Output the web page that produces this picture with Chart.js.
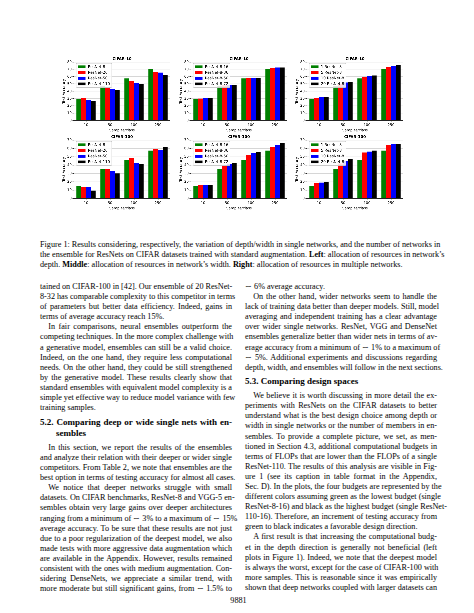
<!DOCTYPE html>
<html><head><meta charset="utf-8">
<script src="https://cdn.jsdelivr.net/npm/chart.js@4"></script>
<style>
html,body{margin:0;padding:0;background:#fff;}
body{width:474px;height:613px;position:relative;overflow:hidden;font-family:"Liberation Serif","Times New Roman",serif;color:#000;}
canvas{position:absolute;}
.blk{position:absolute;font-size:8.18px;line-height:10.1px;}
.l{text-align:justify;text-align-last:justify;white-space:nowrap;height:10.1px;}
.cap .l{height:10px;}
.e{text-align-last:left;}
.p{text-indent:8.2px;}
.h{font-weight:bold;font-size:9px;line-height:11.4px;height:11.4px;white-space:nowrap;}
.h.first{margin-top:3.4px;}
.h.last{margin-bottom:3.5px;}
.h2{padding-left:16px;}
.hj{text-align:justify;text-align-last:justify;}
</style>
</head><body>
<canvas id="c1" width="113" height="77" style="left:60px;top:56px;width:113px;height:77px"></canvas>
<canvas id="c2" width="113" height="77" style="left:177px;top:56px;width:113px;height:77px"></canvas>
<canvas id="c3" width="113" height="77" style="left:293px;top:56px;width:113px;height:77px"></canvas>
<canvas id="c4" width="113" height="77" style="left:60px;top:134px;width:113px;height:77px"></canvas>
<canvas id="c5" width="113" height="77" style="left:177px;top:134px;width:113px;height:77px"></canvas>
<canvas id="c6" width="113" height="77" style="left:293px;top:134px;width:113px;height:77px"></canvas>

<div class="blk cap" style="left:40px;top:240px;width:397px;line-height:10px;">
<div class="l">Figure 1: Results considering, respectively, the variation of depth/width in single networks, and the number of networks in</div>
<div class="l">the ensemble for ResNets on CIFAR datasets trained with standard augmentation. <b>Left</b>: allocation of resources in network’s</div>
<div class="l e">depth. <b>Middle</b>: allocation of resources in network’s width. <b>Right</b>: allocation of resources in multiple networks.</div>
</div>

<div class="blk" style="left:40px;top:282px;width:192px;">
<div class="l">tained on CIFAR-100 in [42]. Our ensemble of 20 ResNet-</div>
<div class="l">8-32 has comparable complexity to this competitor in terms</div>
<div class="l">of parameters but better data efficiency. Indeed, gains in</div>
<div class="l e">terms of average accuracy reach 15%.</div>
<div class="l p">In fair comparisons, neural ensembles outperform the</div>
<div class="l">competing techniques. In the more complex challenge with</div>
<div class="l">a generative model, ensembles can still be a valid choice.</div>
<div class="l">Indeed, on the one hand, they require less computational</div>
<div class="l">needs. On the other hand, they could be still strengthened</div>
<div class="l">by the generative model. These results clearly show that</div>
<div class="l">standard ensembles with equivalent model complexity is a</div>
<div class="l">simple yet effective way to reduce model variance with few</div>
<div class="l e">training samples.</div>
<div class="h first hj">5.2. Comparing deep or wide single nets with en-</div>
<div class="h last h2">sembles</div>
<div class="l p">In this section, we report the results of the ensembles</div>
<div class="l">and analyze their relation with their deeper or wider single</div>
<div class="l">competitors. From Table 2, we note that ensembles are the</div>
<div class="l e">best option in terms of testing accuracy for almost all cases.</div>
<div class="l p">We notice that deeper networks struggle with small</div>
<div class="l">datasets. On CIFAR benchmarks, ResNet-8 and VGG-5 en-</div>
<div class="l">sembles obtain very large gains over deeper architectures</div>
<div class="l">ranging from a minimum of ∼ 3% to a maximum of ∼ 15%</div>
<div class="l">average accuracy. To be sure that these results are not just</div>
<div class="l">due to a poor regularization of the deepest model, we also</div>
<div class="l">made tests with more aggressive data augmentation which</div>
<div class="l">are available in the Appendix. However, results remained</div>
<div class="l">consistent with the ones with medium augmentation. Con-</div>
<div class="l">sidering DenseNets, we appreciate a similar trend, with</div>
<div class="l">more moderate but still significant gains, from ∼ 1.5% to</div>
</div>

<div class="blk" style="left:245px;top:282px;width:192px;">
<div class="l e">∼ 6% average accuracy.</div>
<div class="l p">On the other hand, wider networks seem to handle the</div>
<div class="l">lack of training data better than deeper models. Still, model</div>
<div class="l">averaging and independent training has a clear advantage</div>
<div class="l">over wider single networks. ResNet, VGG and DenseNet</div>
<div class="l">ensembles generalize better than wider nets in terms of av-</div>
<div class="l">erage accuracy from a minimum of ∼ 1% to a maximum of</div>
<div class="l">∼ 5%. Additional experiments and discussions regarding</div>
<div class="l e">depth, width, and ensembles will follow in the next sections.</div>
<div class="h first last">5.3. Comparing design spaces</div>
<div class="l p">We believe it is worth discussing in more detail the ex-</div>
<div class="l">periments with ResNets on the CIFAR datasets to better</div>
<div class="l">understand what is the best design choice among depth or</div>
<div class="l">width in single networks or the number of members in en-</div>
<div class="l">sembles. To provide a complete picture, we set, as men-</div>
<div class="l">tioned in Section 4.3, additional computational budgets in</div>
<div class="l">terms of FLOPs that are lower than the FLOPs of a single</div>
<div class="l">ResNet-110. The results of this analysis are visible in Fig-</div>
<div class="l">ure 1 (see its caption in table format in the Appendix,</div>
<div class="l">Sec. D). In the plots, the four budgets are represented by the</div>
<div class="l">different colors assuming green as the lowest budget (single</div>
<div class="l">ResNet-8-16) and black as the highest budget (single ResNet-</div>
<div class="l">110-16). Therefore, an increment of testing accuracy from</div>
<div class="l e">green to black indicates a favorable design direction.</div>
<div class="l p">A first result is that increasing the computational budg-</div>
<div class="l">et in the depth direction is generally not beneficial (left</div>
<div class="l">plots in Figure 1). Indeed, we note that the deepest model</div>
<div class="l">is always the worst, except for the case of CIFAR-100 with</div>
<div class="l">more samples. This is reasonable since it was empirically</div>
<div class="l">shown that deep networks coupled with larger datasets can</div>
</div>

<div class="blk" style="left:40px;top:596px;width:397px;text-align:center;line-height:10px;">9881</div>

<script>
// ---- data ----
const samples = ['10', '50', '100', '250'];
const yTicksC10 = [0, 10, 20, 30, 40, 50, 60, 70, 80];
const yTicksC100 = [0, 10, 20, 30, 40, 50, 60, 70];
const depthNames = ['ResNet-8', 'ResNet-26', 'ResNet-50', 'ResNet-110'];
const widthNames = ['ResNet-8-16', 'ResNet-8-36', 'ResNet-8-50', 'ResNet-8-72'];
const ensembleNames = ['1 ResNet-8', '5 ResNet-8', '10 ResNet-8', '20 ResNet-8'];
const budgetColors = ['#008000', '#ff0000', '#0000ff', '#000000'];

const c10Depth = [
  [29.5, 47.5, 57.5, 70.0],
  [30.5, 44.0, 54.0, 66.5],
  [28.0, 43.0, 51.5, 65.5],
  [26.5, 42.0, 49.5, 62.5]
];
const c10Width = [
  [29.5, 47.5, 57.5, 70.0],
  [30.0, 48.0, 58.0, 71.5],
  [30.5, 48.5, 58.5, 72.5],
  [30.5, 48.5, 58.5, 72.5]
];
const c10Ens = [
  [29.5, 47.5, 57.5, 70.0],
  [31.0, 50.0, 59.5, 73.5],
  [32.0, 52.0, 61.0, 74.5],
  [32.5, 52.5, 61.5, 75.5]
];
const c100Depth = [
  [15.0, 35.5, 46.5, 57.3],
  [13.8, 35.2, 48.2, 59.3],
  [13.4, 33.2, 42.7, 58.1],
  [9.5, 30.0, 41.1, 61.3]
];
const c100Width = [
  [15.0, 35.5, 46.5, 57.3],
  [16.2, 40.3, 51.8, 62.0],
  [16.6, 41.5, 54.2, 64.4],
  [16.2, 42.7, 55.3, 66.0]
];
const c100Ens = [
  [15.0, 35.5, 46.5, 57.3],
  [18.2, 41.9, 55.0, 64.0],
  [19.0, 45.0, 56.1, 65.2],
  [19.4, 47.0, 57.3, 65.6]
];

// ---- drawing ----
const FONT = 'DejaVu Sans';
const decor = {
  id: 'decor',
  afterDatasetsDraw(chart, args, opts) {
    const ctx = chart.ctx, a = chart.chartArea;
    ctx.save();
    ctx.strokeStyle = '#222';
    ctx.lineWidth = 0.5;
    ctx.strokeRect(a.left, a.top, a.right - a.left, a.bottom - a.top);
    ctx.fillStyle = '#000';
    ctx.font = 'bold 3.8px "' + FONT + '"';
    ctx.textAlign = 'center';
    ctx.textBaseline = 'middle';
    ctx.fillText(opts.title, (a.left + a.right) / 2, a.top - 2.9);
    // legend inside, upper left
    ctx.font = '3.8px "' + FONT + '"';
    const ds = chart.data.datasets;
    let tw = 0;
    ds.forEach(d => { tw = Math.max(tw, ctx.measureText(d.label).width); });
    const fx = a.left + 2.2, fy = a.top + 1.3, pitch = 5.7;
    const fw = 1.8 + 7.5 + 2.4 + tw + 1.8, fh = ds.length * pitch + 1.4;
    ctx.fillStyle = 'rgba(255,255,255,0.85)';
    ctx.strokeStyle = '#c8c8c8';
    ctx.lineWidth = 0.4;
    ctx.beginPath();
    if (ctx.roundRect) ctx.roundRect(fx, fy, fw, fh, 0.8); else ctx.rect(fx, fy, fw, fh);
    ctx.fill(); ctx.stroke();
    ctx.textAlign = 'left';
    ds.forEach((d, i) => {
      const cy = fy + 0.7 + pitch * (i + 0.5);
      ctx.fillStyle = d.backgroundColor;
      ctx.fillRect(fx + 1.8, cy - 1.4, 7.5, 2.8);
      ctx.fillStyle = '#000';
      ctx.fillText(d.label, fx + 1.8 + 7.5 + 2.4, cy);
    });
    ctx.restore();
  }
};

function draw(id, title, names, series, yTicks) {
  const tickFont = { family: FONT, size: 3.6 };
  new Chart(document.getElementById(id), {
    type: 'bar',
    data: {
      labels: samples,
      datasets: series.map((vals, i) => ({
        label: names[i], data: vals, backgroundColor: budgetColors[i],
        borderWidth: 0, categoryPercentage: 0.8, barPercentage: 1.0
      }))
    },
    options: {
      responsive: false, animation: false, devicePixelRatio: 3,
      layout: { padding: { top: 6, left: 2, right: 3, bottom: 0.5 } },
      plugins: { legend: { display: false }, title: { display: false }, tooltip: { enabled: false }, decor: { title: title } },
      scales: {
        x: {
          grid: { display: true, drawOnChartArea: false, drawTicks: true, offset: false, tickLength: 1.5, color: '#222', lineWidth: 0.5 },
          border: { display: false },
          ticks: { font: tickFont, color: '#000', padding: 0.8, maxRotation: 0, autoSkip: false },
          title: { display: true, text: 'Samples/class', font: tickFont, color: '#000', padding: { top: 0, bottom: 0 } },
          afterFit: s => { s.height = 12; }
        },
        y: {
          min: yTicks[0], max: yTicks[yTicks.length - 1],
          grid: { color: 'rgba(0,0,0,0.16)', lineWidth: 0.5, drawTicks: true, tickLength: 1.5, tickColor: '#222', tickWidth: 0.5 },
          border: { display: false },
          ticks: { stepSize: yTicks[1] - yTicks[0], font: tickFont, color: '#000', padding: 0.8, autoSkip: false },
          title: { display: true, text: 'Test Accuracy', font: tickFont, color: '#000', padding: { top: 0, bottom: 0 } },
          afterFit: s => { s.width = 12; }
        }
      }
    },
    plugins: [decor]
  });
}

draw('c1', 'CIFAR-10', depthNames, c10Depth, yTicksC10);
draw('c2', 'CIFAR-10', widthNames, c10Width, yTicksC10);
draw('c3', 'CIFAR-10', ensembleNames, c10Ens, yTicksC10);
draw('c4', 'CIFAR-100', depthNames, c100Depth, yTicksC100);
draw('c5', 'CIFAR-100', widthNames, c100Width, yTicksC100);
draw('c6', 'CIFAR-100', ensembleNames, c100Ens, yTicksC100);
</script>
</body></html>
